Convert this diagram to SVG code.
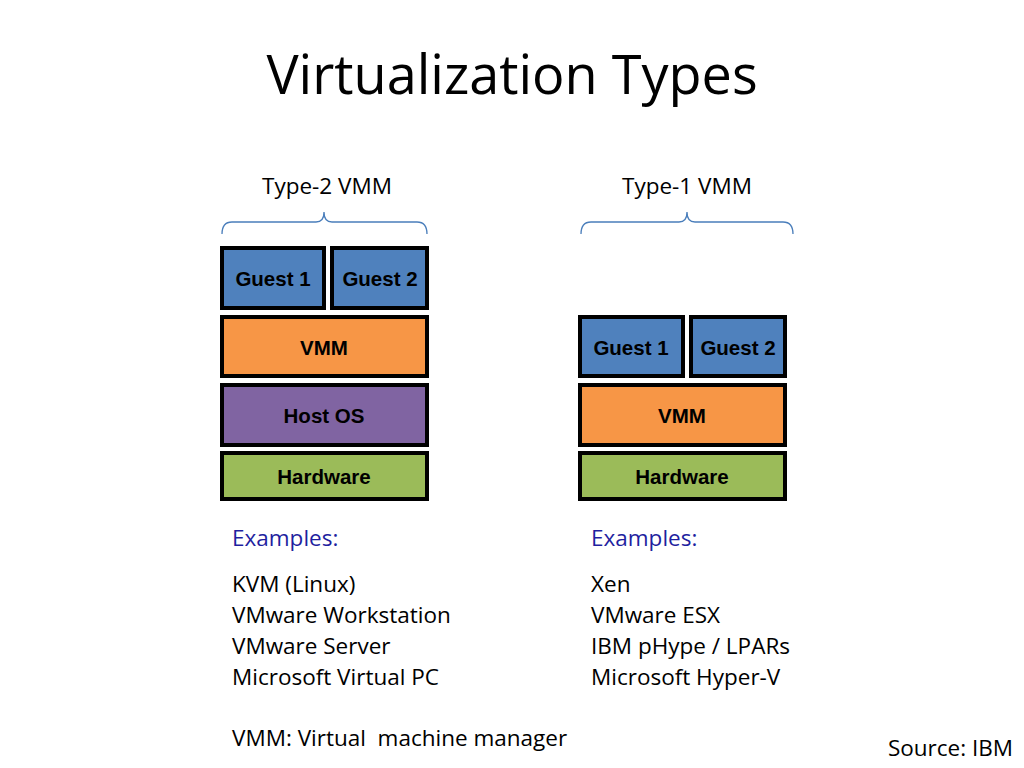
<svg xmlns="http://www.w3.org/2000/svg" width="1024" height="768" viewBox="0 0 1024 768">
<style>
.b{stroke:#000;stroke-width:4}
.bt{font-family:"Liberation Sans",Arial,sans-serif;font-weight:bold;font-size:20.5px;fill:#000;text-anchor:middle}
.t{font-family:"Open Sans","Liberation Sans",sans-serif;font-size:22.5px;fill:#000}
.br{fill:none;stroke:#4a7ebb;stroke-width:1.3}
.g{fill:#4f81bd}.o{fill:#f79646}.p{fill:#8064a2}.h{fill:#9bbb59}
</style>
<rect width="1024" height="768" fill="#fff"/>
<text x="512" y="94" font-family="Open Sans,Liberation Sans,sans-serif" font-size="54" text-anchor="middle">Virtualization Types</text>
<text class="t" x="327" y="194" text-anchor="middle">Type-2 VMM</text>
<text class="t" x="687" y="194" text-anchor="middle">Type-1 VMM</text>
<g id="connectors">
<path class="br" d="M222,234 Q222,222 232,222 L316,222 Q324,222 324,212 Q324,222 332,222 L417,222 Q427,222 427,234"/>
<path class="br" d="M581,234 Q581,222 591,222 L679,222 Q687,222 687,212 Q687,222 695,222 L783,222 Q793,222 793,234"/>
</g>
<g id="t2-guest1"><rect class="b g" x="222" y="248" width="102" height="60"/><text class="bt" x="273" y="286">Guest 1</text></g>
<g id="t2-guest2"><rect class="b g" x="332" y="248" width="95" height="60"/><text class="bt" x="380" y="286">Guest 2</text></g>
<g id="t2-vmm"><rect class="b o" x="222" y="317" width="205" height="59"/><text class="bt" x="324" y="355">VMM</text></g>
<g id="t2-host"><rect class="b p" x="222" y="385" width="205" height="60"/><text class="bt" x="324" y="423">Host OS</text></g>
<g id="t2-hw"><rect class="b h" x="222" y="453" width="205" height="46"/><text class="bt" x="324" y="484">Hardware</text></g>
<g id="t1-guest1"><rect class="b g" x="580" y="317" width="103" height="59"/><text class="bt" x="631" y="355">Guest 1</text></g>
<g id="t1-guest2"><rect class="b g" x="691" y="317" width="94" height="59"/><text class="bt" x="738" y="355">Guest 2</text></g>
<g id="t1-vmm"><rect class="b o" x="580" y="385" width="205" height="60"/><text class="bt" x="682" y="423">VMM</text></g>
<g id="t1-hw"><rect class="b h" x="580" y="453" width="205" height="46"/><text class="bt" x="682" y="484">Hardware</text></g>
<g class="t">
<text x="232" y="546" fill="#1f1fa0">Examples:</text>
<text x="232" y="592">KVM (Linux)</text>
<text x="232" y="623">VMware Workstation</text>
<text x="232" y="654">VMware Server</text>
<text x="232" y="685">Microsoft Virtual PC</text>
<text x="232" y="746" xml:space="preserve">VMM: Virtual  machine manager</text>
<text x="591" y="546" fill="#1f1fa0">Examples:</text>
<text x="591" y="592">Xen</text>
<text x="591" y="623">VMware ESX</text>
<text x="591" y="654">IBM pHype / LPARs</text>
<text x="591" y="685">Microsoft Hyper-V</text>
<text x="1013" y="756" text-anchor="end">Source: IBM</text>
</g>
</svg>
